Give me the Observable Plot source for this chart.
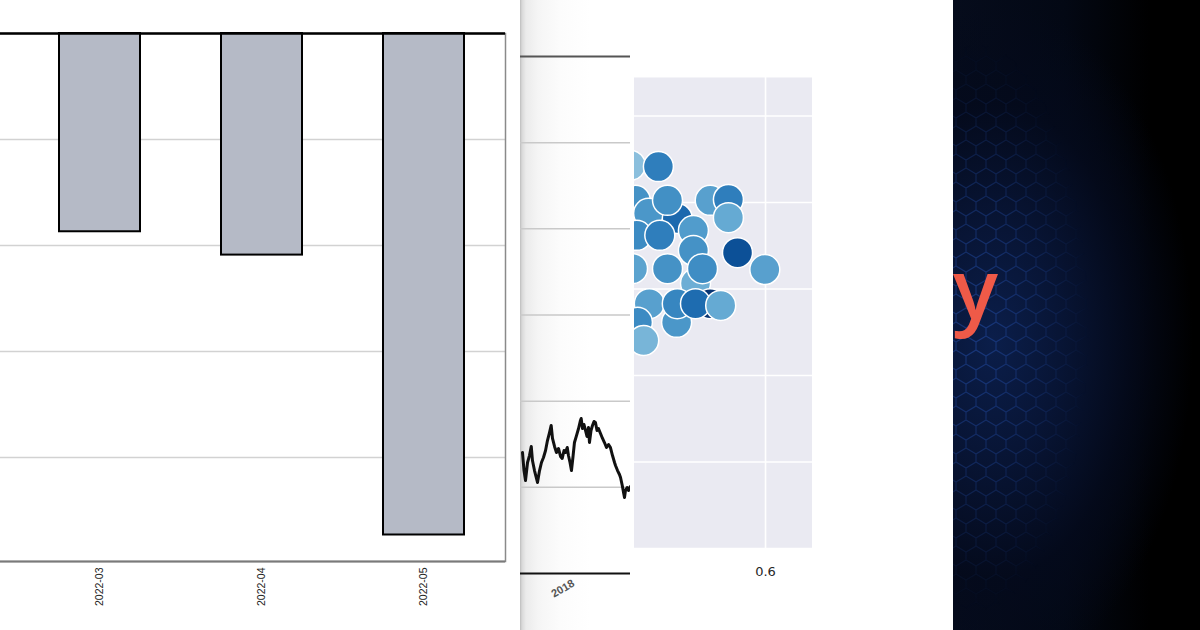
<!DOCTYPE html>
<html><head><meta charset="utf-8">
<script src="https://cdn.jsdelivr.net/npm/d3@7"></script>
<script src="https://cdn.jsdelivr.net/npm/@observablehq/plot@0.6"></script>
<style>
html,body{margin:0;padding:0;background:#fff;width:1200px;height:630px;overflow:hidden;position:relative}
.panel{position:absolute;overflow:hidden}
#p2{background:linear-gradient(to right,#bdbdbd 0px,#d9d9d9 2px,#ebebeb 6px,#f5f5f5 18px,#fcfcfc 40px,#ffffff 70px)}
#p4{background:
  radial-gradient(ellipse 200px 340px at 40px 340px, rgba(11,30,74,1) 0%, rgba(8,21,54,0.95) 35%, rgba(4,10,28,0.85) 70%, rgba(0,0,0,0) 100%),
  linear-gradient(to right,#060c1c 0%,#030814 45%,#000 80%)}
</style></head><body>
<div id="p1" class="panel" style="left:0;top:0;width:520px;height:630px"></div>
<div id="p2" class="panel" style="left:520px;top:0;width:110px;height:630px"></div>
<div id="p3" class="panel" style="left:634px;top:0;width:200px;height:630px"></div>
<div id="p4" class="panel" style="left:953px;top:0;width:247px;height:630px">
<svg width="247" height="630" style="position:absolute;left:0;top:0">
<defs>
<pattern id="hex" width="20" height="28" patternUnits="userSpaceOnUse" x="3" y="0">
<path d="M10,0 L20,6 L20,14 L10,20 L0,14 L0,6 Z M10,20 L10,28" fill="none" stroke="#1c3f8c" stroke-width="1.1"/>
</pattern>
<radialGradient id="fade" cx="0.1" cy="0.52" r="0.45">
<stop offset="0" stop-color="#fff" stop-opacity="0.8"/>
<stop offset="0.5" stop-color="#fff" stop-opacity="0.45"/>
<stop offset="1" stop-color="#fff" stop-opacity="0"/>
</radialGradient>
<mask id="m"><rect width="247" height="630" fill="url(#fade)"/></mask>
</defs>
<rect width="247" height="630" fill="url(#hex)" mask="url(#m)"/>
<text x="0" y="319" font-family="Open Sans" font-weight="600" font-size="84" fill="#ef5a48">y</text>
</svg>
</div>
<script>
// ---------- Panel 1: monthly bars ----------
const months = ["2022-02", "2022-03", "2022-04", "2022-05"];
const barMonths = ["2022-03", "2022-04", "2022-05"];
const barValues = [-1.87, -2.09, -4.73];
const barGrid = [-1, -2, -3, -4];
const barYMin = -4.98;

// ---------- Panel 2: time series ----------
const lineYears = [2017.575,2017.5875,2017.600,2017.617,2017.633,2017.648,2017.658,2017.675,2017.692,2017.700,
  2017.717,2017.733,2017.750,2017.767,2017.783,2017.800,2017.814,2017.825,2017.842,2017.858,
  2017.875,2017.892,2017.906,2017.921,2017.933,2017.948,2017.958,2017.971,2017.983,2017.996,
  2018.008,2018.025,2018.042,2018.058,2018.064,2018.075,2018.0875,2018.100,2018.1125,2018.125,
  2018.133,2018.146,2018.158,2018.171,2018.183,2018.196,2018.208,2018.225,2018.242,2018.258,
  2018.275,2018.292,2018.308,2018.325,2018.342,2018.350,2018.367,2018.383,2018.392,2018.408,
  2018.417,2018.425,2018.433,2018.4475,2018.458,2018.475];
const lineValues = [14.04,11.95,10.79,12.88,13.69,14.74,13.11,11.95,11.02,10.56,
  11.95,12.88,13.46,14.27,15.43,16.36,17.18,15.67,14.74,14.04,
  14.51,13.58,13.35,14.27,14.04,14.62,13.69,12.88,11.95,13.58,
  15.20,16.01,16.83,17.76,17.99,16.83,17.29,16.60,15.90,16.94,
  15.20,16.60,17.18,17.64,17.52,16.60,16.83,16.25,15.67,15.20,
  14.62,14.97,14.62,13.69,12.88,12.53,11.95,11.49,11.14,10.10,
  9.40,8.82,9.63,9.98,9.63,10.10];
const lineGrid = [10, 20, 30, 40, 50];
const lineTicks = [2018];

// ---------- Panel 3: scatter ----------
const dotX = [0.407,0.447,0.414,0.433,0.474,0.460,0.521,0.547,0.547,0.416,0.449,0.497,0.497,0.560,0.410,0.500,0.460,0.510,0.599,0.434,0.473,0.474,0.521,0.500,0.536,0.417,0.426];
const dotY = [0.886,0.883,0.805,0.775,0.763,0.805,0.805,0.807,0.765,0.724,0.724,0.735,0.689,0.684,0.647,0.613,0.647,0.647,0.645,0.566,0.523,0.566,0.566,0.566,0.562,0.523,0.481];
const dotTone = [0.42,0.70,0.62,0.60,0.78,0.63,0.56,0.70,0.52,0.65,0.70,0.58,0.62,0.88,0.55,0.50,0.62,0.64,0.56,0.56,0.60,0.67,0.98,0.77,0.52,0.65,0.47];
const scatterXTicks = [0.4, 0.6];
const scatterYTicks = [0, 0.2, 0.4, 0.6, 0.8, 1.0];

const bars = barMonths.map((m, i) => ({month: m, value: barValues[i]}));
const series = lineYears.map((t, i) => ({t, v: lineValues[i]}));
const dots = dotX.map((x, i) => ({x, y: dotY[i], tone: dotTone[i]}));

const p1 = Plot.plot({
  width: 652, height: 630,
  marginLeft: 0, marginRight: 2, marginTop: 33, marginBottom: 69,
  x: {type: "band", domain: months, paddingInner: 0.5, paddingOuter: 0.25, label: null},
  y: {domain: [barYMin, 0], axis: null},
  style: {position: "absolute", left: "-145px", top: "0px", maxWidth: "none", background: "transparent",
          fontFamily: "Liberation Sans, Arial, sans-serif", fontSize: "10.5px", color: "#222"},
  marks: [
    Plot.ruleY(barGrid, {stroke: "#d2d2d2", strokeWidth: 1.5}),
    Plot.frame({stroke: "#8a8a8a", strokeWidth: 1.5}),
    Plot.barY(bars, {x: "month", y: "value", fill: "#b5bac6", stroke: "#000", strokeWidth: 2}),
    Plot.ruleY([0], {stroke: "#000", strokeWidth: 2.5}),
    Plot.ruleY([barYMin], {stroke: "#7a7a7a", strokeWidth: 2}),
    Plot.axisX({ticks: barMonths, tickRotate: -90, tickSize: 0, tickPadding: 6, label: null, fill: "#222"})
  ]
});
document.getElementById("p1").appendChild(p1);

const p2 = Plot.plot({
  width: 177, height: 630,
  marginLeft: 0, marginRight: 0, marginTop: 56, marginBottom: 57,
  x: {domain: [2017, 2018.475], label: null},
  y: {domain: [0, 60], axis: null},
  style: {position: "absolute", left: "-67px", top: "0px", maxWidth: "none", background: "transparent",
          fontFamily: "Liberation Sans, Arial, sans-serif", fontSize: "11px", color: "#555"},
  marks: [
    Plot.ruleY(lineGrid, {stroke: "#c9c9c9", strokeWidth: 1.5}),
    Plot.ruleY([60], {stroke: "#555", strokeWidth: 2}),
    Plot.ruleY([0], {stroke: "#111", strokeWidth: 2.2}),
    Plot.line(series, {x: "t", y: "v", stroke: "#111", strokeWidth: 3, strokeLinejoin: "round"}),
    Plot.axisX({ticks: lineTicks, tickFormat: d3.format("d"), tickRotate: -30, tickSize: 0, tickPadding: 9,
                label: null, fill: "#555", fontWeight: "bold"})
  ]
});
document.getElementById("p2").appendChild(p2);

const p3 = Plot.plot({
  width: 222, height: 630,
  marginLeft: 0, marginRight: 0, marginTop: 77, marginBottom: 82,
  x: {domain: [0.35, 0.6671], label: null},
  y: {domain: [0, 1.089], axis: null},
  color: {type: "linear", scheme: "blues", domain: [0, 1]},
  style: {position: "absolute", left: "-44px", top: "0px", maxWidth: "none", background: "transparent",
          fontFamily: "DejaVu Sans, sans-serif", fontSize: "13px", color: "#262626"},
  marks: [
    Plot.frame({fill: "#eaeaf2"}),
    Plot.ruleX(scatterXTicks, {stroke: "#fff", strokeWidth: 1.6}),
    Plot.ruleY(scatterYTicks, {stroke: "#fff", strokeWidth: 1.6}),
    Plot.dot(dots, {x: "x", y: "y", r: 15, fill: "tone", stroke: "#fff", strokeWidth: 1.5}),
    Plot.axisX({ticks: [0.6], tickFormat: d3.format(".1f"), tickSize: 0, tickPadding: 18, label: null, fill: "#262626"})
  ]
});
document.getElementById("p3").appendChild(p3);
</script>
</body></html>
